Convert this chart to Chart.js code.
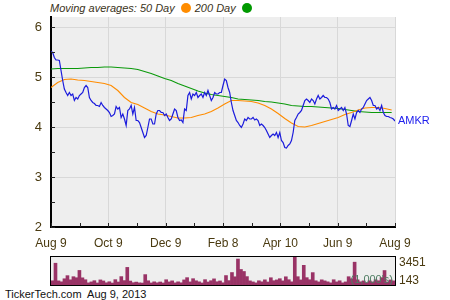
<!DOCTYPE html>
<html>
<head>
<meta charset="utf-8">
<script src="https://cdn.jsdelivr.net/npm/chart.js@4.4.0/dist/chart.umd.min.js"></script>
<style>
  body{margin:0;background:#fff;width:450px;height:300px;position:relative;overflow:hidden;font-family:"Liberation Sans",Arial,sans-serif}
  #main{position:absolute;left:0;top:0}
  #vol{position:absolute;left:0;top:256px}
  #legend{position:absolute;left:50px;top:3px;font-size:11px;line-height:11px;font-style:italic;color:#3a3220;white-space:nowrap}
  .dot{display:inline-block;width:10px;height:10px;border-radius:50%;vertical-align:-1px;margin:0 4px 0 6px}
  #footer{position:absolute;left:5px;top:289px;font-size:11px;line-height:11px;color:#111;white-space:pre}
</style>
</head>
<body>
<div id="legend">Moving averages: 50 Day<span class="dot" style="background:#ff8c00"></span>200 Day<span class="dot" style="background:#009900"></span></div>
<canvas id="main" width="450" height="252"></canvas>
<canvas id="vol" width="450" height="30"></canvas>
<div id="footer">TickerTech.com  Aug 9, 2013</div>
<script>
//labels on the date axis and the price axis
let xLabels = ['Aug 9', 'Oct 9', 'Dec 9', 'Feb 8', 'Apr 10', 'Jun 9', 'Aug 9']
let yTicks = [2, 3, 4, 5, 6]
let ticker = 'AMKR'

//closing price (evenly spaced through the year)
let price = [
  5.51,5.49,5.39,5.34,5.34,5.33,5.13,4.93,4.76,4.69,
  4.63,4.69,4.63,4.66,4.53,4.59,4.56,4.63,4.66,4.69,
  4.79,4.83,4.79,4.59,4.53,4.49,4.47,4.43,4.43,4.41,
  4.49,4.43,4.39,4.36,4.33,4.29,4.21,4.23,4.26,4.41,
  4.36,4.39,4.19,4.26,4.16,4.03,4.33,4.36,4.43,4.26,
  4.39,4.13,4.13,4.09,3.99,3.89,3.79,3.83,3.99,4.16,
  4.16,4.06,4.06,4.26,4.33,4.33,4.29,4.29,4.23,4.26,
  4.19,4.13,4.16,4.26,4.36,4.33,4.19,4.13,4.14,4.09,
  4.36,4.33,4.63,4.69,4.56,4.66,4.63,4.69,4.59,4.63,
  4.66,4.59,4.69,4.63,4.73,4.63,4.53,4.59,4.69,4.66,
  4.66,4.69,4.69,4.83,4.96,4.93,4.79,4.69,4.49,4.33,
  4.23,4.13,4.09,4.03,3.99,4.06,4.16,4.13,4.19,4.16,
  4.16,4.19,4.14,4.16,4.13,4.03,4.06,4.03,3.99,3.93,
  3.86,3.79,3.83,3.86,3.83,3.89,3.79,3.89,3.73,3.69,
  3.59,3.58,3.63,3.66,3.73,3.89,4.13,4.19,4.26,4.29,
  4.33,4.43,4.53,4.56,4.53,4.49,4.56,4.53,4.46,4.56,
  4.63,4.56,4.59,4.63,4.59,4.59,4.56,4.49,4.36,4.39,
  4.36,4.43,4.33,4.36,4.39,4.33,4.39,4.26,4.03,4.01,
  4.13,4.26,4.16,4.29,4.33,4.29,4.36,4.39,4.46,4.53,
  4.56,4.59,4.53,4.43,4.43,4.36,4.39,4.33,4.43,4.29,
  4.23,4.21,4.21,4.19,4.18,4.16,4.12
]
//moving averages, one value for every 4th price point
let maStep = 4
let ma50 = [
  4.79,4.89,4.95,4.96,4.94,4.93,4.91,4.89,4.87,4.83,
  4.73,4.59,4.49,4.45,4.38,4.31,4.26,4.24,4.21,4.18,
  4.18,4.19,4.23,4.26,4.31,4.38,4.46,4.53,4.53,4.52,
  4.51,4.48,4.43,4.36,4.27,4.17,4.08,4.01,4.00,4.03,
  4.07,4.11,4.15,4.19,4.25,4.29,4.34,4.38,4.39,4.39,
  4.37,4.34
]
let ma200 = [
  5.16,5.17,5.17,5.17,5.17,5.18,5.19,5.19,5.20,5.20,
  5.19,5.18,5.17,5.15,5.11,5.07,5.02,4.97,4.93,4.87,
  4.82,4.77,4.72,4.68,4.65,4.63,4.61,4.59,4.56,4.55,
  4.54,4.53,4.51,4.50,4.48,4.46,4.43,4.42,4.41,4.41,
  4.40,4.39,4.38,4.37,4.35,4.33,4.31,4.30,4.29,4.29,
  4.29,4.29
]
//volume in 1000's
let volume = [
  600,2620,590,480,830,1190,710,1070,950,1790,940,720,360,470,610,350,700,580,370,490,
  340,730,460,1080,620,2140,570,380,450,360,340,1310,600,350,480,370,460,350,720,470,
  590,360,480,370,700,960,470,840,600,480,350,730,460,610,820,490,580,370,1200,620,
  1550,1060,3100,1900,1670,1080,590,470,360,600,480,710,460,950,610,700,840,590,1060,720,
  480,3451,1070,700,2380,960,720,1540,600,470,710,590,480,360,720,470,600,360,470,1070,
  830,2740,710,480,590,360,610,470,720,600,960,1780,460,700,590
]
let volMax = '3451'
let volMin = '143'

let txt = '#4a3a10'
let lastX = price.length - 1

//grey plot background
const plotBg = {
  id: 'plotBg',
  beforeDraw: (chart) => {
    const a = chart.chartArea
    chart.ctx.save()
    chart.ctx.fillStyle = '#eeeeee'
    chart.ctx.fillRect(a.left, a.top, a.right - a.left, a.bottom - a.top)
    chart.ctx.restore()
  }
}

//small tick marks pointing into the plot + the ticker name at the end of the line
const mainExtras = {
  id: 'mainExtras',
  afterDraw: (chart) => {
    const {ctx, chartArea: a, scales: {x, y}} = chart
    ctx.save()
    ctx.strokeStyle = '#222'
    ctx.lineWidth = 1
    ctx.beginPath()
    for (let i = 0; i <= 12; i++) {
      const px = Math.round(x.getPixelForValue(lastX * i / 12)) + 0.5
      ctx.moveTo(px, a.bottom)
      ctx.lineTo(px, a.bottom - 4)
    }
    for (let v = yTicks[0]; v <= yTicks[yTicks.length - 1]; v += 0.5) {
      const py = Math.round(y.getPixelForValue(v)) + 0.5
      ctx.moveTo(a.left, py)
      ctx.lineTo(a.left + 4, py)
    }
    ctx.stroke()
    ctx.fillStyle = '#2020ee'
    ctx.font = '11px "Liberation Sans", Arial, sans-serif'
    ctx.textBaseline = 'middle'
    ctx.fillText(ticker, a.right + 3, y.getPixelForValue(price[lastX]))
    ctx.restore()
  }
}

new Chart(document.getElementById('main'), {
  type: 'line',
  data: {
    datasets: [
      {data: price.map((v, i) => ({x: i, y: v})), borderColor: '#1c1cdc', borderWidth: 1.2},
      {data: ma50.map((v, i) => ({x: i * maStep, y: v})), borderColor: '#ff8c00', borderWidth: 1.1},
      {data: ma200.map((v, i) => ({x: i * maStep, y: v})), borderColor: '#0a990a', borderWidth: 1.1}
    ]
  },
  options: {
    responsive: false,
    animation: false,
    elements: {point: {radius: 0}, line: {tension: 0}},
    layout: {padding: {left: 0, right: 55, top: 17, bottom: 0}},
    plugins: {legend: {display: false}, tooltip: {enabled: false}},
    scales: {
      x: {
        type: 'linear', min: 0, max: lastX,
        afterBuildTicks: (s) => { s.ticks = xLabels.map((l, i) => ({value: lastX * i / 6})) },
        afterFit: (s) => { s.height = 25 },
        ticks: {callback: (v, i) => xLabels[i], color: txt, font: {size: 12, family: '"Liberation Sans", Arial'}, padding: 9, maxRotation: 0, autoSkip: false},
        grid: {color: '#d8d8d8', drawTicks: false},
        border: {color: '#000', width: 2}
      },
      y: {
        min: 2, max: 6.2,
        afterBuildTicks: (s) => { s.ticks = yTicks.map(v => ({value: v})) },
        afterFit: (s) => { s.width = 51 },
        ticks: {color: txt, font: {size: 13, family: '"Liberation Sans", Arial'}, padding: 9},
        grid: {color: '#d8d8d8', drawTicks: false},
        border: {color: '#000', width: 2}
      }
    }
  },
  plugins: [plotBg, mainExtras]
})

//volume box with its frame and labels
const volExtras = {
  id: 'volExtras',
  afterDraw: (chart) => {
    const {ctx, chartArea: a} = chart
    ctx.save()
    ctx.strokeStyle = '#000'
    ctx.lineWidth = 1
    ctx.strokeRect(a.left - 0.5, a.top + 0.5, a.right - a.left + 1, a.bottom - a.top - 1)
    ctx.font = '12px "Liberation Sans", Arial, sans-serif'
    ctx.textBaseline = 'middle'
    ctx.fillStyle = txt
    ctx.fillText(volMax, a.right + 4, a.top + 7)
    ctx.fillText(volMin, a.right + 4, a.bottom - 5)
    ctx.font = '11px "Liberation Sans", Arial, sans-serif'
    ctx.fillStyle = '#4f7d63'
    ctx.textAlign = 'right'
    ctx.fillText("(1,000's)", a.right - 2, a.bottom - 6)
    ctx.restore()
  }
}

new Chart(document.getElementById('vol'), {
  type: 'bar',
  data: {
    labels: volume.map((v, i) => i),
    datasets: [{data: volume, backgroundColor: '#993366', barPercentage: 1, categoryPercentage: 1, borderWidth: 0}]
  },
  options: {
    responsive: false,
    animation: false,
    layout: {padding: {left: 51, right: 55, top: 0, bottom: 0}},
    plugins: {legend: {display: false}, tooltip: {enabled: false}},
    scales: {
      x: {display: false},
      y: {display: false, min: 0, max: 3451}
    }
  },
  plugins: [plotBg, volExtras]
})
</script>
</body>
</html>
